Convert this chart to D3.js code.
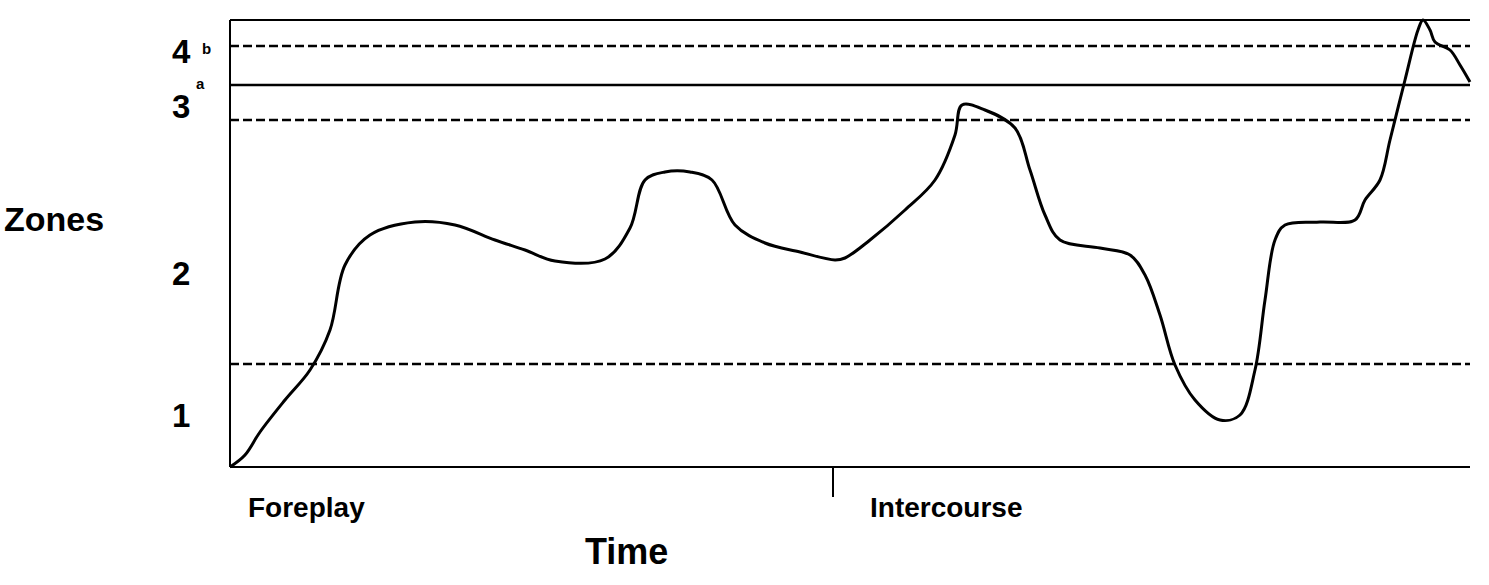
<!DOCTYPE html>
<html>
<head>
<meta charset="utf-8">
<script src="https://cdn.jsdelivr.net/npm/d3@7"></script>
<style>
  body { margin: 0; background: #fff; }
  text { font-family: "Liberation Sans", Arial, sans-serif; fill: #000; font-weight: bold; }
</style>
</head>
<body>
<svg id="chart" width="1489" height="585"></svg>
<script>
// time runs 0..1240, arousal level 0..447 (bottom to top of plot)
let curveT = [0, 15, 30, 55, 80, 100, 115, 140, 185, 225, 265, 295, 325, 375, 400, 415, 435, 460, 482, 505, 535, 570, 605, 615, 640, 675, 705, 725, 732, 755, 785, 800, 815, 830, 870, 900, 915, 930, 945, 965, 990, 1010, 1025, 1035, 1045, 1055, 1090, 1125, 1135, 1150, 1160, 1175, 1188, 1193, 1200, 1205, 1220, 1230, 1240];
let curveV = [0, 12, 35, 67, 97, 137, 202, 232, 245, 242, 227, 217, 206, 208, 239, 287, 295, 295, 287, 242, 224, 215, 207, 209, 227, 257, 287, 332, 362, 357, 339, 297, 252, 227, 219, 212, 192, 152, 102, 67, 47, 52, 97, 167, 227, 242, 245, 247, 267, 287, 327, 387, 437, 447, 437, 425, 417, 402, 385];

let guideV = [421, 382, 347, 103];
let guideDash = [true, false, true, true];

let zoneLabels = ["4", "3", "2", "1"];
let zoneLabelV = [419, 364, 197, 55];
let phaseLabels = ["Foreplay", "Intercourse"];
let phaseT = [18, 640];
let phaseTick = 603;

let svg = d3.select('#chart');
let x = d3.scaleLinear().domain([0, 1240]).range([230, 1470]);
let y = d3.scaleLinear().domain([0, 447]).range([467, 20]);

// frame: top, left and bottom lines
svg.append('line').attr('x1', x(0)).attr('x2', x(1240)).attr('y1', y(447)).attr('y2', y(447))
    .attr('stroke', '#000').attr('stroke-width', 2);
svg.append('line').attr('x1', x(0)).attr('x2', x(0)).attr('y1', y(447)).attr('y2', y(0))
    .attr('stroke', '#000').attr('stroke-width', 2);
svg.append('line').attr('x1', x(0)).attr('x2', x(1240)).attr('y1', y(0)).attr('y2', y(0))
    .attr('stroke', '#000').attr('stroke-width', 2);
svg.append('line').attr('x1', x(phaseTick)).attr('x2', x(phaseTick)).attr('y1', y(0)).attr('y2', y(0) + 30)
    .attr('stroke', '#000').attr('stroke-width', 2);

svg.selectAll('.guide')
    .data(guideV)
    .enter()
    .append('line')
    .attr('x1', x(0))
    .attr('x2', x(1240))
    .attr('y1', (d) => y(d))
    .attr('y2', (d) => y(d))
    .attr('stroke', '#000')
    .attr('stroke-width', 2.5)
    .attr('stroke-dasharray', (d, i) => guideDash[i] ? '9,4' : null);

let line = d3.line()
    .x((d) => x(d[0]))
    .y((d) => y(d[1]))
    .curve(d3.curveCatmullRom);

svg.append('path')
    .datum(curveT.map((t, i) => [t, curveV[i]]))
    .attr('d', line)
    .attr('fill', 'none')
    .attr('stroke', '#000')
    .attr('stroke-width', 3);

svg.selectAll('.zone')
    .data(zoneLabels)
    .enter()
    .append('text')
    .attr('x', 172)
    .attr('y', (d, i) => y(zoneLabelV[i]) + 15)
    .attr('font-size', '33px')
    .text((d) => d);

svg.append('text').attr('x', 202).attr('y', 54).attr('font-size', '15px').text('b');
svg.append('text').attr('x', 196).attr('y', 89).attr('font-size', '15px').text('a');

svg.append('text').attr('x', 4).attr('y', 231).attr('font-size', '34px').text('Zones');

svg.selectAll('.phase')
    .data(phaseLabels)
    .enter()
    .append('text')
    .attr('x', (d, i) => x(phaseT[i]))
    .attr('y', 517)
    .attr('font-size', '28px')
    .text((d) => d);

svg.append('text').attr('x', 585).attr('y', 564).attr('font-size', '36px').text('Time');
</script>
</body>
</html>
